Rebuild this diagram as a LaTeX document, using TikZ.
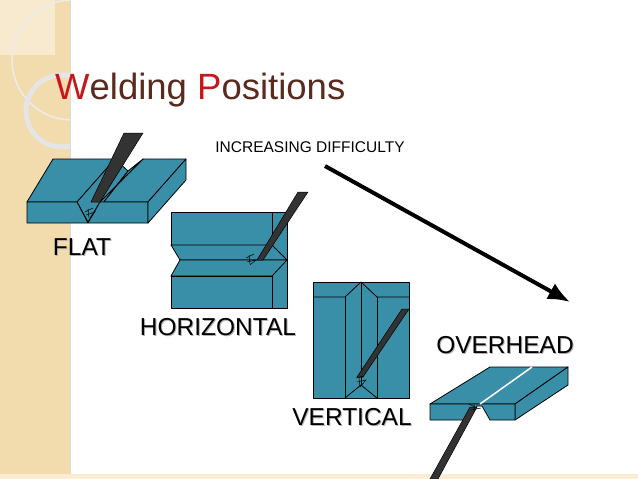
\documentclass[tikz,border=0pt]{standalone}
\usepackage{fontspec}
\setmainfont{Liberation Sans}
\usetikzlibrary{arrows.meta}
\begin{document}
\begin{tikzpicture}[x=1pt,y=-1pt,
  metal/.style={fill=teal1,draw=black,line width=0.8pt,line join=round},
  rod/.style={fill=rodgray,draw=black,line width=0.5pt},
  lbl/.style={font=\fontsize{24.5}{24.5}\selectfont,inner sep=0pt},
  shadow/.style={lbl,text=gray!60}]
\definecolor{teal1}{HTML}{3A8FA8}
\definecolor{rodgray}{HTML}{333333}
\definecolor{tan}{HTML}{F2DCAE}
\definecolor{brownt}{HTML}{5A2A1E}
\definecolor{redt}{HTML}{C8161D}
\useasboundingbox (0,0) rectangle (638,479);
\fill[white] (0,0) rectangle (638,479);
% left strip
\fill[tan] (0,0) rectangle (70,479);
\fill[tan!60] (0,0) rectangle (55,55);
\draw[gray!30,line width=0.8pt] (70,0) -- (70,479);
\begin{scope}
\clip (0,0) rectangle (70,479);
\draw[white!85!gray,line width=1.5pt] (72,60) circle (60);
\draw[white!80!gray,line width=5pt] (62,111) circle (36);
\end{scope}
\fill[tan!50] (0,474) rectangle (638,479);
% title
\node[anchor=base west,inner sep=0pt,font=\fontsize{36.5}{36.5}\selectfont,text=brownt] (title) at (55,99)
  {\textcolor{redt}{W}elding \textcolor{redt}{P}ositions};
\node[font=\fontsize{15.5}{15.5}\selectfont,inner sep=0pt] (inc) at (310,147) {INCREASING DIFFICULTY};
% arrow
\coordinate (a1) at (325,166);
\coordinate (a2) at (570,302);
\draw[line width=4pt,-{Latex[length=22pt,width=18pt]}] (a1) -- (a2);
% FLAT piece
\draw[metal] (27,202) -- (53,159) -- (115,159) -- (77,202) -- cycle;
\draw[metal] (100,202) -- (143,159) -- (186,159) -- (148,202) -- cycle;
\fill[white] (115,159) -- (143,159) -- (100,202) -- (77,202) -- cycle;
\draw[metal] (77,202) -- (115,159) -- (128,171) -- (88,222) -- cycle;
\draw[metal] (88,222) -- (128,171) -- (143,159) -- (100,202) -- cycle;
\draw[metal] (27,202) -- (77,202) -- (88,223) -- (100,202) -- (148,202) -- (148,223) -- (27,223) -- cycle;
\draw[metal] (148,202) -- (186,159) -- (186,180) -- (148,223) -- cycle;
\draw[rod] (124,133) -- (143,133) -- (100,202) -- (91,202) -- cycle;
\draw[black,line width=0.5pt] (85,212) -- (93,208) (86,215) -- (95,212) -- (90,218) (88,209)--(89,218);
% HORIZONTAL piece
\draw[metal] (171,212) rectangle (272,245);
\draw[metal] (272,212) -- (287,212) -- (287,308) -- (272,308) -- cycle;
\draw[metal] (171,245) -- (272,245) -- (287,260) -- (180,260) -- cycle;
\draw[metal] (180,260) -- (287,260) -- (272,276) -- (171,276) -- cycle;
\draw[metal] (171,276) rectangle (272,308);
\draw[rod] (298,192) -- (308,192) -- (263,260) -- (257,260) -- cycle;
\draw[black,line width=0.5pt] (246,258) -- (254,254) (247,262) -- (256,260) -- (250,265) (249,255)--(250,264);
% VERTICAL piece
\draw[metal] (313,282) rectangle (409,398);
\draw[metal] (313,297) -- (345,297) -- (361,282) -- (377,297) -- (409,297);
\draw[metal] (345,297) -- (345,398) (361,282) -- (361,385) (377,297) -- (377,398);
\draw[metal] (345,398) -- (361,385) -- (377,398);
\draw[rod] (402,309) -- (409,309) -- (363,377) -- (357,377) -- cycle;
\draw[black,line width=0.5pt] (356,378) -- (364,376) (357,382) -- (366,380) -- (360,387) (359,378)--(360,387);
% OVERHEAD piece
\draw[metal] (430,404) -- (490,367) -- (568,367) -- (515,404) -- cycle;
\draw[metal] (515,404) -- (568,367) -- (568,385) -- (515,420) -- cycle;
\draw[metal] (430,404) -- (515,404) -- (515,420) -- (490,420) -- (482,406) -- (477,406) -- (467,420) -- (430,420) -- cycle;
\draw[white,line width=1.5pt] (480,404) -- (532,367);
\draw[rod] (470,407) -- (477,407) -- (438,479) -- (430,479) -- cycle;
\draw[black,line width=0.5pt] (469,404) -- (477,408) (471,410) -- (481,408) (474,403)--(474,412);
% labels
\node[shadow] at (83,248) {FLAT};
\node[lbl] (flat) at (82,247) {FLAT};
\node[shadow] at (219,328) {HORIZONTAL};
\node[lbl] (hor) at (218,327) {HORIZONTAL};
\node[shadow] at (353,418) {VERTICAL};
\node[lbl] (ver) at (352,417) {VERTICAL};
\node[shadow] at (506,346) {OVERHEAD};
\node[lbl] (ovh) at (505,345) {OVERHEAD};
\end{tikzpicture}
\end{document}
